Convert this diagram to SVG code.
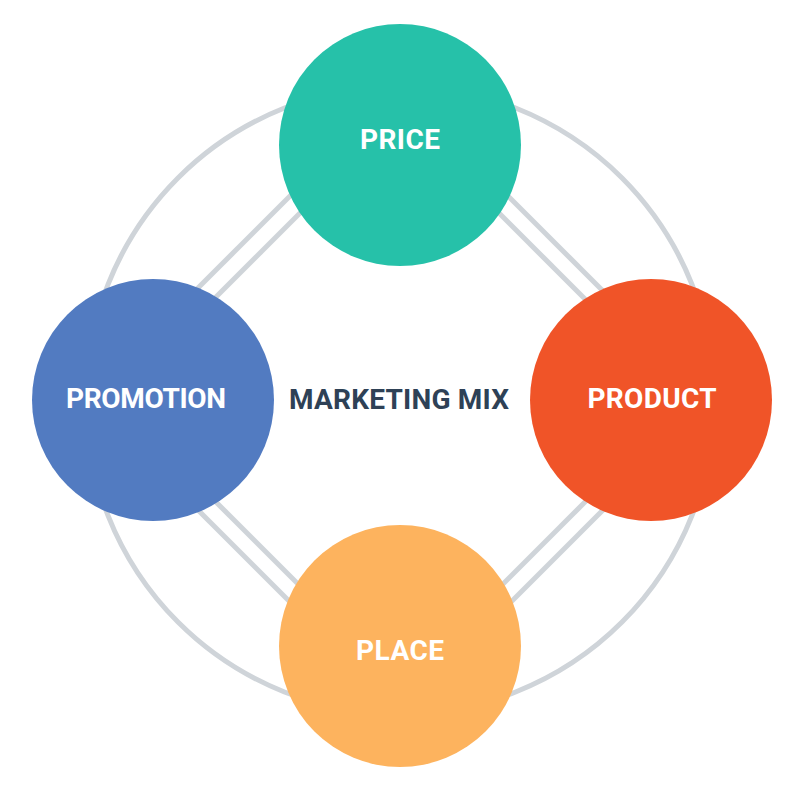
<svg xmlns="http://www.w3.org/2000/svg" width="800" height="800" viewBox="0 0 800 800">
  <style>
    .ring { fill: none; stroke: #cfd4d9; stroke-width: 5; }
    .link { stroke: #cfd4d9; stroke-width: 5; stroke-linecap: butt; }
    .label { font-family: Roboto, "Liberation Sans", sans-serif; font-weight: 700; font-size: 28px; fill: #ffffff; text-anchor: middle; }
    .title { font-family: Roboto, "Liberation Sans", sans-serif; font-weight: 700; font-size: 28px; fill: #2e4156; text-anchor: middle; }
  </style>
  <rect width="800" height="800" fill="#ffffff"/>
  <g id="connectors">
    <circle class="ring" cx="400" cy="400" r="314"/>
    <line class="link" x1="330" y1="156" x2="150" y2="336"/>
    <line class="link" x1="340" y1="173" x2="170" y2="343"/>
    <line class="link" x1="470" y1="158" x2="650" y2="338"/>
    <line class="link" x1="460" y1="174" x2="630" y2="344"/>
    <line class="link" x1="150" y1="462" x2="330" y2="642"/>
    <line class="link" x1="170" y1="456" x2="340" y2="626"/>
    <line class="link" x1="650" y1="463" x2="470" y2="643"/>
    <line class="link" x1="630" y1="457" x2="460" y2="627"/>
  </g>
  <g id="price">
    <circle cx="400" cy="145" r="121" fill="#26c1a9"/>
    <text class="label" x="400" y="149" textLength="80">PRICE</text>
  </g>
  <g id="promotion">
    <circle cx="153" cy="400" r="121" fill="#527bc1"/>
    <text class="label" x="146" y="408" textLength="160">PROMOTION</text>
  </g>
  <g id="product">
    <circle cx="651" cy="400" r="121" fill="#f05428"/>
    <text class="label" x="652" y="408" textLength="129">PRODUCT</text>
  </g>
  <g id="place">
    <circle cx="400" cy="646" r="121" fill="#fdb35e"/>
    <text class="label" x="400" y="660" textLength="88">PLACE</text>
  </g>
  <g id="center">
    <text class="title" x="399" y="409" textLength="220">MARKETING MIX</text>
  </g>
</svg>
